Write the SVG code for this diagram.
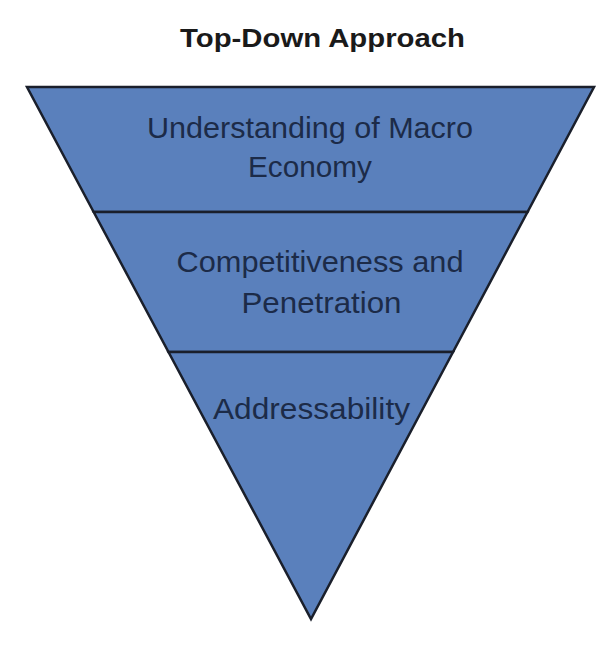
<svg xmlns="http://www.w3.org/2000/svg" width="598" height="646" viewBox="0 0 598 646">
  <style>
    .band { fill: #5a80bc; stroke: #1a1f2b; stroke-width: 2.5; stroke-linejoin: miter; }
    .lbl { font-family: "Liberation Sans", Arial, sans-serif; font-size: 29px; fill: #1c2b48; text-anchor: middle; }
    .title { font-family: "Liberation Sans", Arial, sans-serif; font-size: 26px; font-weight: bold; fill: #1a1a1a; text-anchor: middle; }
  </style>
  <rect width="598" height="646" fill="#ffffff"/>
  <text class="title" x="322.5" y="47" textLength="285" lengthAdjust="spacingAndGlyphs">Top-Down Approach</text>
  <g id="band-macro">
    <polygon class="band" points="27,87 594,87 527.5,212 93.7,212"/>
    <text class="lbl" x="310" y="138" textLength="326" lengthAdjust="spacingAndGlyphs">Understanding of Macro</text>
    <text class="lbl" x="310" y="177" textLength="124" lengthAdjust="spacingAndGlyphs">Economy</text>
  </g>
  <g id="band-competitiveness">
    <polygon class="band" points="93.7,212 527.5,212 453,352 168.5,352"/>
    <text class="lbl" x="320" y="272" textLength="287" lengthAdjust="spacingAndGlyphs">Competitiveness and</text>
    <text class="lbl" x="321.5" y="312.5" textLength="160" lengthAdjust="spacingAndGlyphs">Penetration</text>
  </g>
  <g id="band-addressability">
    <polygon class="band" points="168.5,352 453,352 311,619"/>
    <text class="lbl" x="311.5" y="419" textLength="197" lengthAdjust="spacingAndGlyphs">Addressability</text>
  </g>
  <g id="connectors"></g>
</svg>
